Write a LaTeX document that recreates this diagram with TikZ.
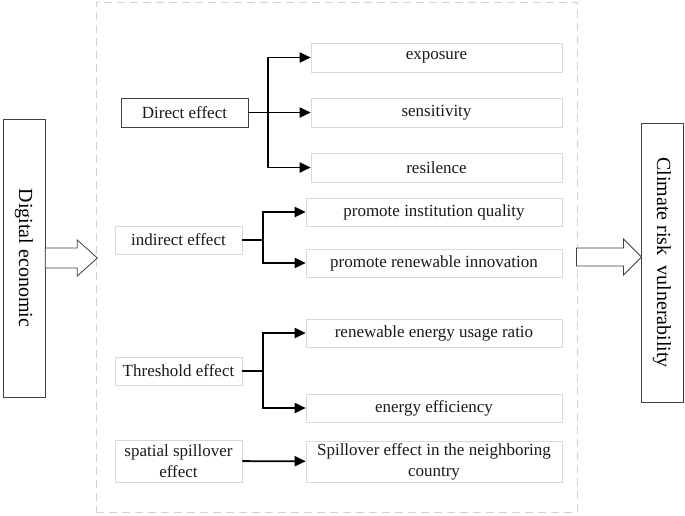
\documentclass[tikz,border=0pt]{standalone}
\usepackage{fontspec}
\setmainfont{Liberation Serif}
\usetikzlibrary{arrows.meta,calc}

\begin{document}
\begin{tikzpicture}[x=1pt,y=-1pt,semithick,font=\fontsize{17}{21}\selectfont]
        \tikzstyle{cause}=[draw=gray!30, text=black!90, minimum width=127pt, minimum height=29pt, inner sep=1pt, align=center]
        \tikzstyle{result}=[draw=gray!30, text=black!90, minimum width=256pt, minimum height=29pt, inner sep=1pt, align=center]
        \tikzstyle{side}=[draw=black!75, fill=white, rotate=-90, minimum height=42pt, inner sep=1pt, font=\fontsize{20}{24}\selectfont]
        \tikzstyle{frame}=[draw=gray!35, dash pattern=on 8pt off 5pt, line width=1pt, minimum width=481pt, minimum height=510pt]
        \tikzstyle{link}=[-{Triangle[length=11pt,width=10pt]}, line width=1.8pt]
        \tikzstyle{fork}=[line width=1.8pt]
        \tikzstyle{hollow}=[draw=black!75, fill=white, line width=0.8pt]

        \useasboundingbox (0,0) rectangle (685,515);
        \node[frame] (frame) at (336.5,257) {};

        \node[side, minimum width=278pt] (digital) at (24,258) {Digital economic};
        \node[side, minimum width=279pt] (climate) at (662,262.5) {Climate risk~ vulnerability};

        \node[cause, draw=black!75, minimum width=127pt] (direct) at (184.5,112.5) {Direct effect};
        \node[result, minimum width=251pt] (exposure) at (436.5,57.5) {exposure};
        \node[result, minimum width=251pt] (sensitivity) at (436.5,112.5) {sensitivity};
        \node[result, minimum width=251pt] (resilence) at (436.5,167.5) {resilence};

        \node[cause, minimum height=28pt] (indirect) at (178.5,240) {indirect effect};
        \node[result, minimum height=28pt] (institution) at (434,212) {promote institution quality};
        \node[result, minimum height=28pt] (innovation) at (434,263) {promote renewable innovation};

        \node[cause, minimum height=28pt] (threshold) at (178.5,371) {Threshold effect};
        \node[result, minimum height=28pt] (usage) at (434,333) {renewable energy usage ratio};
        \node[result, minimum height=28pt] (efficiency) at (434,408) {energy efficiency};

        \node[cause, minimum height=42pt] (spatial) at (178.5,461) {spatial spillover\\effect};
        \node[result, minimum height=41pt] (spillover) at (434,461.5) {Spillover effect in the neighboring\\country};

        \coordinate (dsplit) at (268,112.5);
        \coordinate (isplit) at (263,240);
        \coordinate (tsplit) at (263,371);

        \draw[fork] (direct.east) -- (dsplit);
        \foreach \t in {exposure,sensitivity,resilence}
          \draw[link] (dsplit) |- (\t.west);
        \draw[fork] (indirect.east) -- (isplit);
        \foreach \t in {institution,innovation}
          \draw[link] (isplit) |- (\t.west);
        \draw[fork] (threshold.east) -- (tsplit);
        \foreach \t in {usage,efficiency}
          \draw[link] (tsplit) |- (\t.west);
        \draw[link] (spatial) -- (spillover);

        \draw[hollow] (digital.north) ++(0,-10) -- ++(32,0) -- ++(0,-8) -- ++(20,18) -- ++(-20,18) -- ++(0,-8) -- ++(-32,0) -- cycle;
        \draw[hollow] (frame.east) ++(-1,-9) -- ++(47,0) -- ++(0,-9) -- ++(18,18) -- ++(-18,18) -- ++(0,-9) -- ++(-47,0) -- cycle;
\end{tikzpicture}
\end{document}
